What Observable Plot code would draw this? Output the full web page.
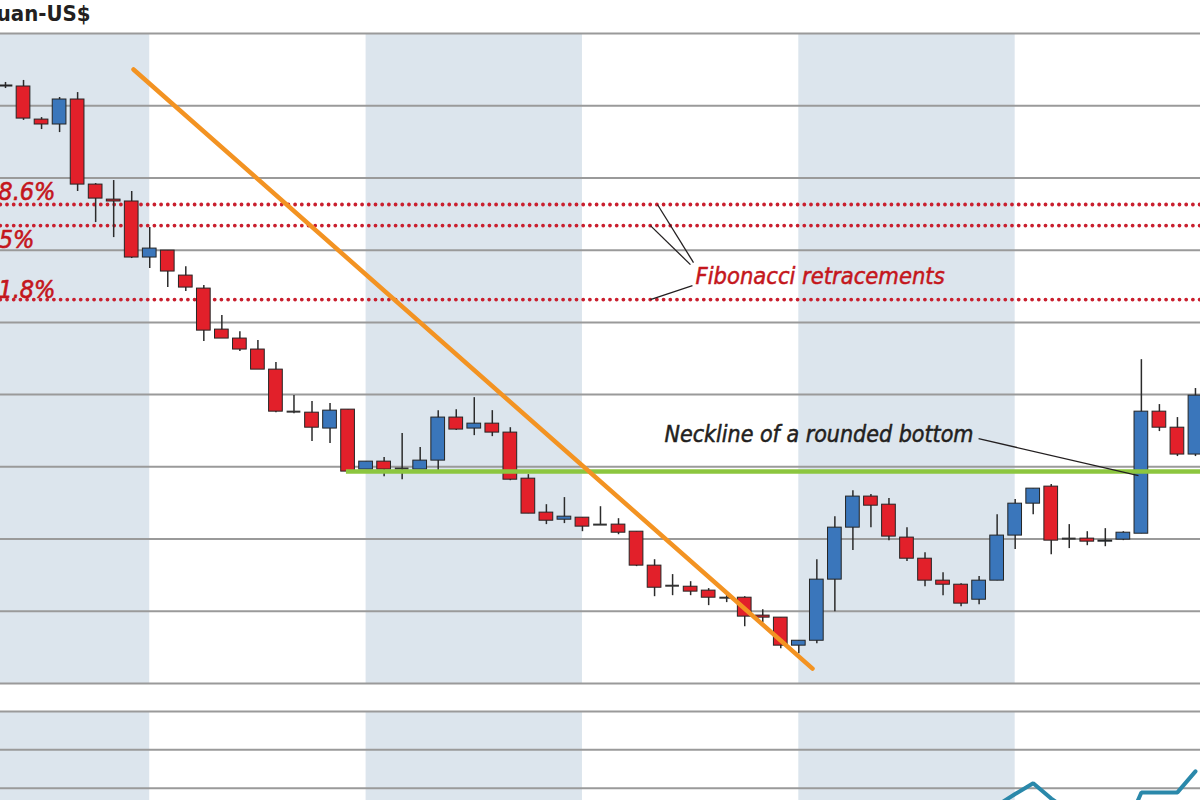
<!DOCTYPE html>
<html>
<head>
<meta charset="utf-8">
<script src="https://cdn.jsdelivr.net/npm/d3@7"></script>
<script src="https://cdn.jsdelivr.net/npm/@observablehq/plot@0.6"></script>
<style>
  html, body { margin: 0; padding: 0; background: #fff; }
  #wrap { position: relative; width: 1200px; height: 800px; overflow: hidden; background: #fff; }
  #title { position: absolute; left: -16px; top: 1px; font-family: "DejaVu Sans Condensed", "DejaVu Sans", sans-serif; font-weight: bold; font-size: 22px; line-height: 1.164; color: #231f20; white-space: nowrap; }
  #main { position: absolute; left: -60px; top: 28px; width: 1320px; }
  #lower { position: absolute; left: -60px; top: 705px; width: 1320px; }
  #main svg, #lower svg { max-width: none; }
</style>
</head>
<body>
<div id="wrap">
  <div id="title">Yuan-US$</div>
  <div id="main"></div>
  <div id="lower"></div>
</div>
<script>
// ---------- data (prices in yuan per US$) ----------
const open = [6.9133, 6.9133, 6.8904, 6.8870, 6.9043, 6.8454, 6.8350, 6.8337, 6.7949, 6.7997,
  6.7824, 6.7734, 6.7450, 6.7388, 6.7312, 6.7173, 6.6882, 6.6875, 6.6765, 6.6896,
  6.6481, 6.6536, 6.6488, 6.6481, 6.6543, 6.6841, 6.6765, 6.6799, 6.6737, 6.6418,
  6.6183, 6.6134, 6.6148, 6.6100, 6.6100, 6.6051, 6.5816, 6.5677, 6.5670, 6.5643,
  6.5594, 6.5594, 6.5470, 6.5456, 6.5262, 6.5296, 6.5719, 6.6079, 6.6294, 6.6238,
  6.6010, 6.5864, 6.5712, 6.5684, 6.5580, 6.5712, 6.6024, 6.6245, 6.6363, 6.6003,
  6.6003, 6.5982, 6.5996, 6.6037, 6.6882, 6.6771, 6.6585];
const high = [6.9161, 6.9175, 6.8918, 6.9057, 6.9091, 6.8461, 6.8482, 6.8406, 6.8157, 6.7997,
  6.7886, 6.7755, 6.7547, 6.7436, 6.7374, 6.7222, 6.6993, 6.6952, 6.6938, 6.6896,
  6.6536, 6.6564, 6.6730, 6.6633, 6.6889, 6.6896, 6.6979, 6.6889, 6.6771, 6.6446,
  6.6238, 6.6287, 6.6148, 6.6224, 6.6141, 6.6051, 6.5857, 6.5754, 6.5705, 6.5657,
  6.5615, 6.5601, 6.5511, 6.5456, 6.5296, 6.5857, 6.6155, 6.6335, 6.6308, 6.6280,
  6.6079, 6.5906, 6.5767, 6.5691, 6.5740, 6.6169, 6.6273, 6.6349, 6.6377, 6.6100,
  6.6051, 6.6072, 6.6051, 6.7242, 6.6931, 6.6841, 6.7042];
const low = [6.9119, 6.8898, 6.8835, 6.8814, 6.8406, 6.8191, 6.8087, 6.7942, 6.7873, 6.7741,
  6.7713, 6.7367, 6.7388, 6.7298, 6.7173, 6.6875, 6.6868, 6.6675, 6.6661, 6.6467,
  6.6481, 6.6432, 6.6411, 6.6481, 6.6474, 6.6751, 6.6716, 6.6709, 6.6404, 6.6176,
  6.6100, 6.6107, 6.6051, 6.6100, 6.6030, 6.5809, 6.5601, 6.5608, 6.5608, 6.5539,
  6.5560, 6.5393, 6.5421, 6.5241, 6.5206, 6.5276, 6.5497, 6.5920, 6.6079, 6.5989,
  6.5844, 6.5670, 6.5608, 6.5532, 6.5546, 6.5712, 6.5927, 6.6169, 6.5892, 6.5934,
  6.5954, 6.5947, 6.5989, 6.6037, 6.6744, 6.6571, 6.6571];
const close = [6.9140, 6.8911, 6.8870, 6.9043, 6.8454, 6.8357, 6.8337, 6.7949, 6.8011, 6.7852,
  6.7741, 6.7443, 6.7388, 6.7312, 6.7173, 6.6882, 6.6882, 6.6771, 6.6889, 6.6467,
  6.6536, 6.6481, 6.6488, 6.6543, 6.6841, 6.6758, 6.6799, 6.6737, 6.6411, 6.6176,
  6.6127, 6.6155, 6.6086, 6.6100, 6.6044, 6.5816, 6.5663, 6.5677, 6.5636, 6.5594,
  6.5594, 6.5463, 6.5456, 6.5262, 6.5296, 6.5719, 6.6079, 6.6294, 6.6231, 6.6017,
  6.5864, 6.5712, 6.5684, 6.5553, 6.5712, 6.6024, 6.6245, 6.6349, 6.5989, 6.6003,
  6.5982, 6.5989, 6.6044, 6.6882, 6.6771, 6.6585, 6.6993];

// shaded periods (candle index start, end)
const bandStart = [-4, 20, 44, 68];
const bandEnd = [8, 32, 56, 80];

// price gridlines
const gridLevels = [6.95, 6.90, 6.85, 6.80, 6.75, 6.70, 6.65, 6.60, 6.55, 6.50];

// Fibonacci retracement levels
const fibLevels = [6.8316, 6.8170, 6.7658];
const fibNames = ["78.6%", "75%", "61.8%"];

// neckline of the rounded bottom
const necklineLevel = 6.6467;
const necklineFrom = 18.91;

// downtrend line (candle index, price)
const trendIndex = [7.10, 44.76];
const trendPrice = [6.9251, 6.5103];

// lower panel indicator
const lowerIndex = [55, 56, 57, 58, 59, 60, 61, 62, 63, 64, 65, 66];
const lowerValue = [45.5, 48.5, 51.3, 47.3, 44.0, 42.0, 41.0, 38.0, 48.9, 48.9, 48.9, 54.4];
const lowerGrid = [70, 60, 50, 40];

// ---------- build ----------
const FONT = '"DejaVu Sans Condensed", "DejaVu Sans", sans-serif';
const X_DOMAIN = [-3.605, 69.607];
const HALF = 0.38;

const candles = d3.range(open.length).map(i => ({i, o: open[i], h: high[i], l: low[i], c: close[i]}));
const bodyColor = d => d.c > d.o ? "#3a76bb" : d.c < d.o ? "#e2202a" : "#333333";
const bands = bandStart.map((s, k) => ({s, e: bandEnd[k]}));
const trend = trendIndex.map((i, k) => ({i, v: trendPrice[k]}));
const fibLabels = fibNames.map((t, k) => ({t, x: [2.773, 1.608, 2.773][k], y: [6.8350, 6.8018, 6.7672][k]}));
const leaders = [
  {x1: 36.16, y1: fibLevels[0], x2: 38.16, y2: 6.7914},
  {x1: 35.77, y1: fibLevels[1], x2: 37.99, y2: 6.7900},
  {x1: 35.77, y1: fibLevels[2], x2: 38.10, y2: 6.7755},
  {x1: 53.97, y1: 6.6695, x2: 62.84, y2: 6.6439}
];
const lowerData = lowerIndex.map((i, k) => ({i, v: lowerValue[k]}));

const RED_TXT = "#c4161c";
const main = Plot.plot({
  width: 1320, height: 662,
  marginLeft: 0, marginRight: 0, marginTop: 5, marginBottom: 7,
  style: {fontFamily: FONT, background: "transparent", maxWidth: "none"},
  x: {domain: X_DOMAIN, axis: null},
  y: {domain: [6.50, 6.95], axis: null},
  marks: [
    Plot.rect(bands, {x1: "s", x2: "e", y1: 6.50, y2: 6.95, fill: "#dce5ed"}),
    Plot.ruleY(gridLevels, {stroke: "#9a9a9a", strokeWidth: 2}),
    Plot.ruleY(fibLevels, {stroke: "#c91f2e", strokeWidth: 3.8, strokeDasharray: "0,6.7", strokeLinecap: "round"}),
    Plot.ruleX(candles, {x: "i", y1: "l", y2: "h", stroke: "#2b2b2b", strokeWidth: 1.5}),
    Plot.rect(candles, {x1: d => d.i - HALF, x2: d => d.i + HALF, y1: "o", y2: "c", fill: bodyColor, stroke: "#252525", strokeWidth: 1}),
    Plot.ruleY(candles.filter(d => d.o === d.c), {x1: d => d.i - HALF, x2: d => d.i + HALF, y: "c", stroke: "#333333", strokeWidth: 2}),
    Plot.ruleY([necklineLevel], {x1: necklineFrom, x2: 72, stroke: "#8cc63f", strokeWidth: 4.5}),
    Plot.line(trend, {x: "i", y: "v", stroke: "#f39322", strokeWidth: 4.5, strokeLinecap: "round"}),
    Plot.link(leaders, {x1: "x1", y1: "y1", x2: "x2", y2: "y2", stroke: "#231f20", strokeWidth: 1.3}),
    Plot.text(fibLabels, {x: "x", y: "y", text: "t", textAnchor: "end", lineAnchor: "bottom", fill: RED_TXT, stroke: RED_TXT, strokeWidth: 0.6, fontSize: 25, fontStyle: "italic", fontFamily: FONT}),
    Plot.text(["Fibonacci retracements"], {x: 38.27, y: 6.7769, text: d => d, textAnchor: "start", lineAnchor: "bottom", fill: RED_TXT, stroke: RED_TXT, strokeWidth: 0.5, fontSize: 23.5, fontStyle: "italic", fontFamily: FONT}),
    Plot.text(["Neckline of a rounded bottom"], {x: 53.69, y: 6.6675, text: d => d, textAnchor: "end", lineAnchor: "bottom", fill: "#231f20", stroke: "#231f20", strokeWidth: 0.5, fontSize: 23, fontStyle: "italic", fontFamily: FONT})
  ]
});
document.getElementById("main").appendChild(main);

const lower = Plot.plot({
  width: 1320, height: 165,
  marginLeft: 0, marginRight: 0, marginTop: 6, marginBottom: 5.6,
  style: {fontFamily: FONT, background: "transparent", maxWidth: "none"},
  x: {domain: X_DOMAIN, axis: null},
  y: {domain: [30, 70], axis: null},
  marks: [
    Plot.rect(bands, {x1: "s", x2: "e", y1: 30, y2: 70, fill: "#dce5ed"}),
    Plot.ruleY(lowerGrid, {stroke: "#9a9a9a", strokeWidth: 2}),
    Plot.line(lowerData, {x: "i", y: "v", stroke: "#2a88aa", strokeWidth: 4, strokeLinejoin: "miter"})
  ]
});
document.getElementById("lower").appendChild(lower);
</script>
</body>
</html>
